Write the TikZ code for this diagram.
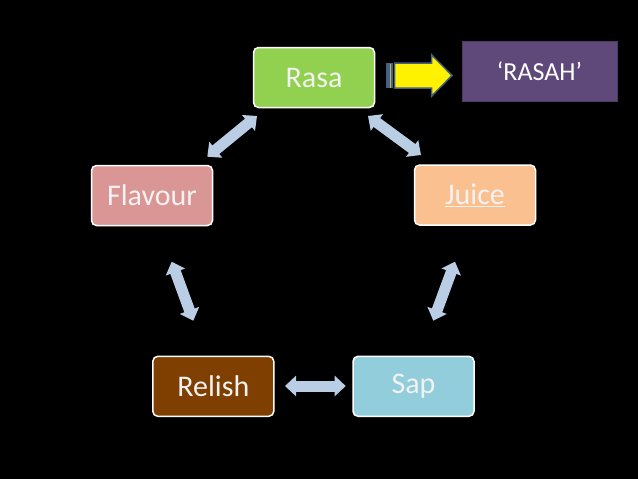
\documentclass[tikz,border=0pt]{standalone}
\usepackage{fontspec}
\setmainfont{Carlito}
\usetikzlibrary{arrows.meta}
\definecolor{rasag}{RGB}{146,208,80}
\definecolor{rasahp}{RGB}{95,73,122}
\definecolor{flav}{RGB}{217,150,148}
\definecolor{juic}{RGB}{250,192,144}
\definecolor{reli}{RGB}{127,63,0}
\definecolor{sapb}{RGB}{146,205,220}
\definecolor{dblc}{RGB}{185,205,229}
\definecolor{slate}{RGB}{70,96,127}
\definecolor{txtw}{RGB}{242,242,242}
\tikzset{
  box/.style={draw=white, line width=1.5pt, rounded corners=5pt, minimum width=121pt, minimum height=60pt, inner sep=0pt, outer sep=0pt, text=txtw, font=\fontsize{30}{34}\selectfont},
  dbl/.style={draw=dblc, line width=11pt, {Triangle[width=20pt,length=11pt]}-{Triangle[width=20pt,length=11pt]}},
}
\begin{document}
\begin{tikzpicture}[x=1pt,y=-1pt]
\fill[black] (0,0) rectangle (638,479);
\useasboundingbox (0,0) rectangle (638,479);
\node[box, fill=rasag] (rasa) at (314,77.5) {Rasa};
\node[draw=rasahp!80!black, line width=1pt, fill=rasahp, minimum width=155pt, minimum height=60pt, inner sep=0pt, text=white, font=\fontsize{26}{30}\selectfont] (rasah) at (539.5,71.7) {‘RASAH’};
\node[box, fill=flav] (flavour) at (152,195.5) {Flavour};
\node[box, fill=juic] (juice) at (475,195) {\underline{Juice}};
\node[box, fill=reli] (relish) at (213.3,386.3) {Relish};
\node[box, fill=sapb] (sap) at (413.5,386.3) {Sap};
% yellow striped arrow
\fill[slate] (386,63) rectangle (393.3,88);
\draw[yellow!60!slate, line width=0.8pt] (390.3,63.5) -- (390.3,87.5);
\draw[slate, line width=1.5pt, fill=yellow] (394.5,63) -- (431.7,63) -- (431.7,55) -- (452,75.5) -- (431.7,96) -- (431.7,88) -- (394.5,88) -- cycle;
% double arrows
\coordinate (a1) at (257,116);
\coordinate (a2) at (207.3,156.7);
\coordinate (b1) at (368,116);
\coordinate (b2) at (421,155);
\coordinate (c1) at (171.7,261.7);
\coordinate (c2) at (193.3,320.7);
\coordinate (d1) at (455,261.7);
\coordinate (d2) at (433.3,320.7);
\coordinate (e1) at (285,386);
\coordinate (e2) at (345.7,386);
\draw[dbl] (a1) -- (a2);
\draw[dbl] (b1) -- (b2);
\draw[dbl] (c1) -- (c2);
\draw[dbl] (d1) -- (d2);
\draw[dbl] (e1) -- (e2);
\end{tikzpicture}
\end{document}
